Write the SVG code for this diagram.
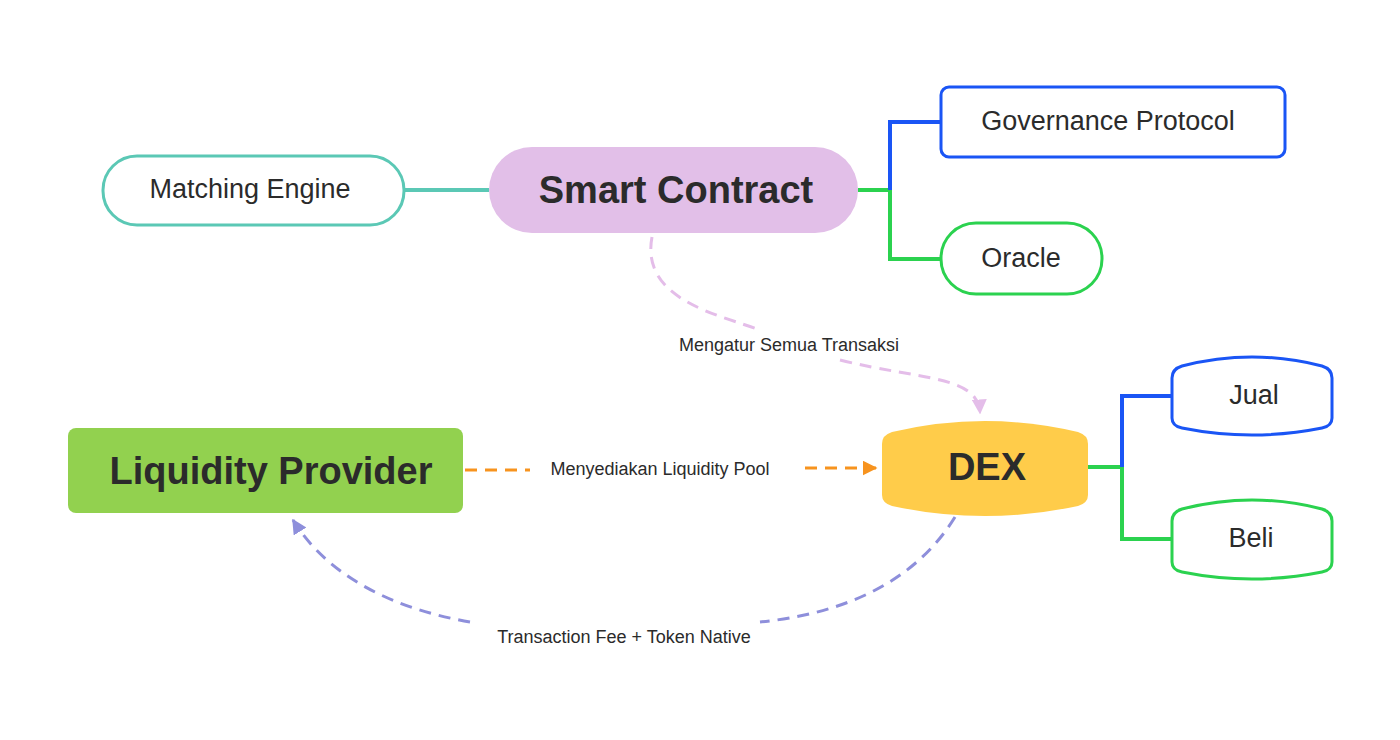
<svg xmlns="http://www.w3.org/2000/svg" width="1400" height="740" viewBox="0 0 1400 740">
<defs>
<style>
text{font-family:"Liberation Sans",Arial,sans-serif;fill:#2b2b2b;text-anchor:middle;dominant-baseline:central}
.big{font-size:38px;font-weight:bold}
.med{font-size:27px}
.lab{font-size:18px}
.d{fill:none;stroke-width:3;stroke-dasharray:12 8}
</style>
<marker id="ao" viewBox="0 0 10 10" refX="9" refY="5" markerWidth="5" markerHeight="5" orient="auto"><path d="M0,0L10,5L0,10Z" fill="#f7931e"/></marker>
<marker id="ap" viewBox="0 0 10 10" refX="9" refY="5" markerWidth="5" markerHeight="5" orient="auto"><path d="M0,0L10,5L0,10Z" fill="#e4bde9"/></marker>
<marker id="au" viewBox="0 0 10 10" refX="9" refY="5" markerWidth="5" markerHeight="5" orient="auto"><path d="M0,0L10,5L0,10Z" fill="#8e8fdb"/></marker>
</defs>
<rect width="1400" height="740" fill="#fff"/>
<g id="connectors" fill="none" stroke-width="4">
<path d="M404,190H489" stroke="#5bc8b5"/>
<path d="M858,190H890V259H941" stroke="#2bd24f"/>
<path d="M890,190V122H941" stroke="#1a55f5"/>
<path d="M1088,467H1122V539H1172" stroke="#2bd24f"/>
<path d="M1122,467V396H1172" stroke="#1a55f5"/>
<path class="d" d="M465,470H530" stroke="#f7931e"/>
<path class="d" d="M805,468H876" stroke="#f7931e" marker-end="url(#ao)"/>
<path class="d" d="M652,237C640,300 720,315 760,330" stroke="#e4bde9"/>
<path class="d" d="M840,360C920,380 978,375 980,413" stroke="#e4bde9" marker-end="url(#ap)"/>
<path class="d" d="M955,517C910,590 830,615 760,622" stroke="#8e8fdb"/>
<path class="d" d="M470,622C400,610 330,580 293,520" stroke="#8e8fdb" marker-end="url(#au)"/>
<text class="lab" x="660" y="469">Menyediakan Liquidity Pool</text>
<text class="lab" x="789" y="345">Mengatur Semua Transaksi</text>
<text class="lab" x="624" y="637">Transaction Fee + Token Native</text>
</g>
<g id="matching"><rect x="103" y="156" width="301" height="69" rx="34" fill="#fff" stroke="#5bc8b5" stroke-width="3"/><text class="med" x="250" y="189">Matching Engine</text></g>
<g id="smart"><rect x="489" y="147" width="369" height="86" rx="43" fill="#e2bfe8"/><text class="big" x="676" y="190">Smart Contract</text></g>
<g id="gov"><rect x="941" y="87" width="344" height="70" rx="8" fill="#fff" stroke="#1a55f5" stroke-width="3"/><text class="med" x="1108" y="121">Governance Protocol</text></g>
<g id="oracle"><rect x="941" y="223" width="161" height="71" rx="35" fill="#fff" stroke="#2bd24f" stroke-width="3"/><text class="med" x="1021" y="258">Oracle</text></g>
<g id="lp"><rect x="68" y="428" width="395" height="85" rx="8" fill="#92d14f"/><text class="big" x="271" y="471">Liquidity Provider</text></g>
<g id="dex"><path d="M892,432Q985,410 1078,432Q1088,435 1088,444V495Q1088,503 1078,506Q985,526 892,506Q882,503 882,495V444Q882,435 892,432Z" fill="#ffcc4a"/><text class="big" x="987" y="467">DEX</text></g>
<g id="jual"><path d="M1182,366Q1252,348 1322,366Q1332,369 1332,378V418Q1332,426 1322,428Q1252,442 1182,428Q1172,426 1172,418V378Q1172,369 1182,366Z" fill="#fff" stroke="#1a55f5" stroke-width="3"/><text class="med" x="1254" y="395">Jual</text></g>
<g id="beli"><path d="M1182,509Q1252,491 1322,509Q1332,512 1332,521V562Q1332,570 1322,572Q1252,586 1182,572Q1172,570 1172,562V521Q1172,512 1182,509Z" fill="#fff" stroke="#2bd24f" stroke-width="3"/><text class="med" x="1251" y="538">Beli</text></g>
</svg>
